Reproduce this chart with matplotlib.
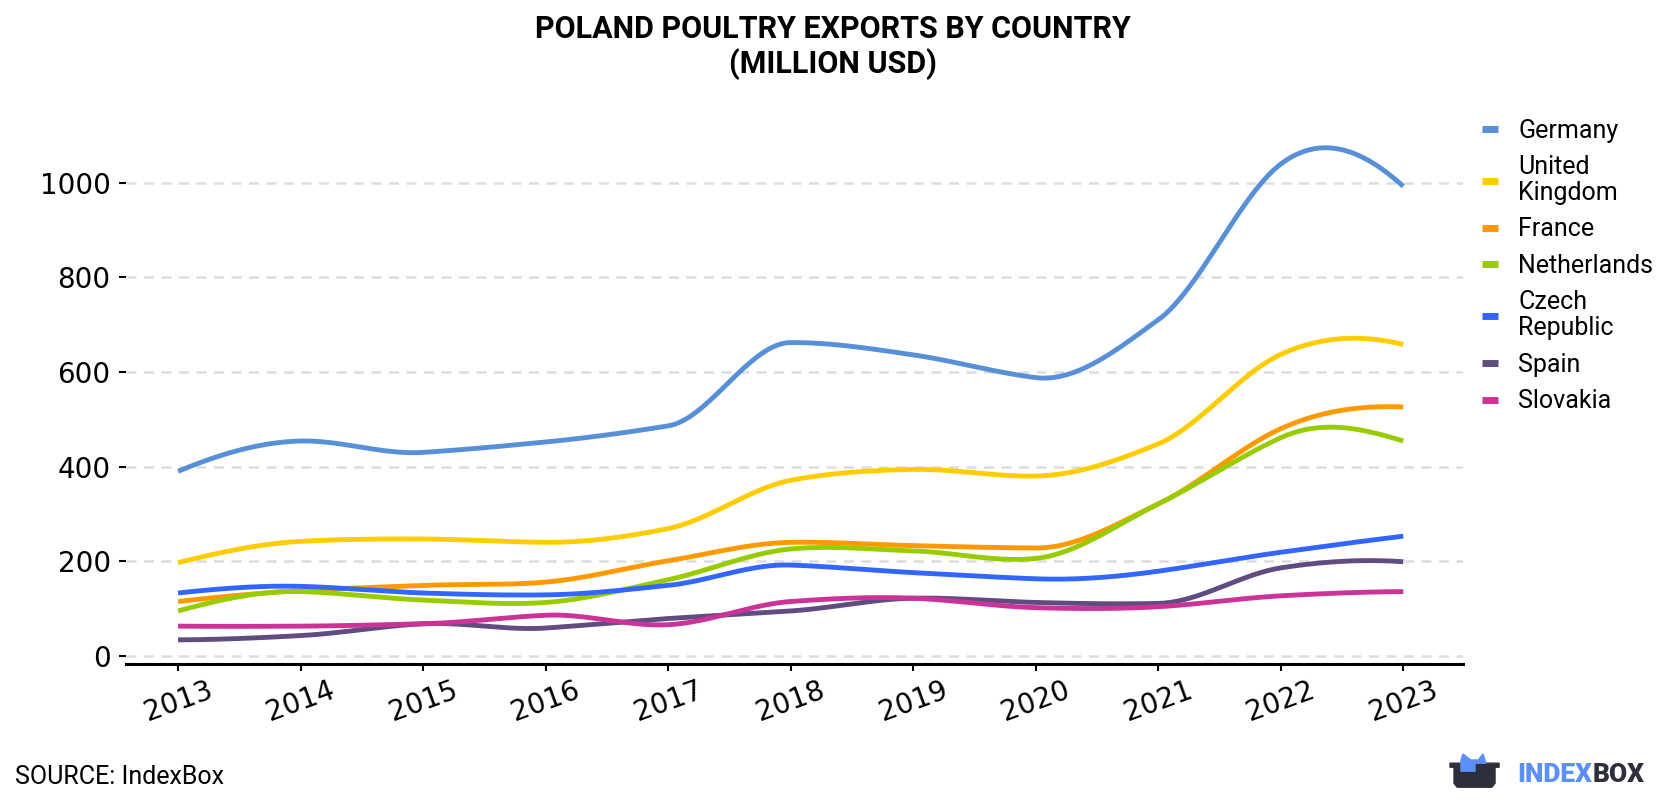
import numpy as np
import matplotlib
matplotlib.use("Agg")
import matplotlib.pyplot as plt
from matplotlib.patches import Polygon

years = [2013, 2014, 2015, 2016, 2017, 2018, 2019, 2020, 2021, 2022, 2023]

germany = [390, 454, 430, 452, 486, 662, 636, 588, 710, 1039, 992]
united_kingdom = [197, 242, 247, 240, 269, 371, 394, 380, 448, 637, 658]
france = [115, 138, 149, 156, 201, 240, 233, 228, 321, 480, 526]
netherlands = [95, 136, 118, 113, 161, 226, 222, 206, 321, 461, 454]
czech_republic = [133, 147, 133, 129, 149, 192, 176, 163, 179, 219, 253]
spain = [34, 43, 68, 59, 79, 95, 122, 113, 111, 186, 199]
slovakia = [63, 63, 68, 86, 66, 115, 122, 102, 104, 127, 136]

series = [
    ("Germany", germany, "#5790d8"),
    ("United\nKingdom", united_kingdom, "#ffcc00"),
    ("France", france, "#ff9900"),
    ("Netherlands", netherlands, "#99cc00"),
    ("Czech\nRepublic", czech_republic, "#3366ff"),
    ("Spain", spain, "#604c80"),
    ("Slovakia", slovakia, "#cc3399"),
]


def smooth(x, y, per_seg=40):
    # akima spline through the yearly points (drawing only)
    x = np.asarray(x, float)
    y = np.asarray(y, float)
    h = np.diff(x)
    m = np.diff(y) / h
    m = np.concatenate([[0, 0], m, [0, 0]])
    m[1] = 2 * m[2] - m[3]
    m[0] = 2 * m[1] - m[2]
    m[-2] = 2 * m[-3] - m[-4]
    m[-1] = 2 * m[-2] - m[-3]
    t = np.zeros(len(x))
    for i in range(len(x)):
        w1 = abs(m[i + 3] - m[i + 2])
        w2 = abs(m[i + 1] - m[i])
        if w1 + w2 == 0:
            t[i] = (m[i + 1] + m[i + 2]) / 2
        else:
            t[i] = (w1 * m[i + 1] + w2 * m[i + 2]) / (w1 + w2)
    xs_all, ys_all = [], []
    s = np.linspace(0, 1, per_seg)
    for i in range(len(x) - 1):
        h00 = 2 * s ** 3 - 3 * s ** 2 + 1
        h10 = s ** 3 - 2 * s ** 2 + s
        h01 = -2 * s ** 3 + 3 * s ** 2
        h11 = s ** 3 - s ** 2
        ys = h00 * y[i] + h10 * h[i] * t[i] + h01 * y[i + 1] + h11 * h[i] * t[i + 1]
        xs = x[i] + s * h[i]
        if i > 0:
            xs, ys = xs[1:], ys[1:]
        xs_all.append(xs)
        ys_all.append(ys)
    return np.concatenate(xs_all), np.concatenate(ys_all)


fig = plt.figure(figsize=(16.8, 8), dpi=100)
ax = fig.add_axes([0.075, 0.17, 0.796, 0.661])
ax.set_xlim(2012.575, 2023.49)
ax.set_ylim(-17, 1100)

for name, vals, color in series:
    xs, ys = smooth(years, vals)
    ax.plot(xs, ys, color=color, linewidth=3.5, label=name, solid_capstyle='butt')

ax.set_yticks([0, 200, 400, 600, 800, 1000])
ax.set_xticks(years)
ax.set_xticklabels([str(y) for y in years], rotation=20)
ax.tick_params(axis='both', labelsize=20, length=5, width=1.5, color='black')
ax.tick_params(axis='y', pad=6)
ax.tick_params(axis='x', pad=4)

for s in ['left', 'right', 'top']:
    ax.spines[s].set_visible(False)
ax.spines['bottom'].set_linewidth(2.2)
ax.yaxis.grid(True, linestyle=(0, (4, 3)), color='#dddddd', linewidth=1.8)
ax.set_axisbelow(True)

leg = ax.legend(loc='upper left', bbox_to_anchor=(0.997, 1.074), frameon=False,
                prop={'family': 'Roboto', 'size': 18}, handlelength=0.65,
                handletextpad=0.8, labelspacing=0.5)
for line in leg.get_lines():
    line.set_linewidth(5)
for t in leg.get_texts():
    t.set_linespacing(1.1)

fig.text(0.496, 0.982, "POLAND POULTRY EXPORTS BY COUNTRY\n(MILLION USD)",
         ha='center', va='top', fontsize=22, fontweight='bold',
         family='Roboto', linespacing=1.15)

fig.text(0.009, 0.02, "SOURCE: IndexBox", fontsize=18, family='Roboto',
         ha='left', va='baseline')

# logo
t_index = fig.text(0.903, 0.0225, "INDEX", fontsize=19, fontweight='heavy',
                   family='Roboto', color='#5b8ff9', ha='left', va='baseline')
fig.canvas.draw()
bb = t_index.get_window_extent().transformed(fig.transFigure.inverted())
fig.text(bb.x1 + 0.0005, 0.0225, "BOX", fontsize=19, fontweight='heavy',
         family='Roboto', color='#2d2f3a', ha='left', va='baseline')
box = Polygon([[0.8631, 0.046], [0.8923, 0.046], [0.8923, 0.041], [0.8899, 0.041],
               [0.8899, 0.021], [0.8880, 0.016], [0.8674, 0.016], [0.8655, 0.021],
               [0.8655, 0.041], [0.8631, 0.041]],
              closed=True, transform=fig.transFigure, color='#2d2f3a')
ears = Polygon([[0.8696, 0.036], [0.8696, 0.050], [0.8708, 0.0575], [0.8755, 0.050],
                [0.8800, 0.050], [0.8827, 0.0575], [0.8845, 0.046], [0.8780, 0.046],
                [0.8780, 0.036]],
               closed=True, transform=fig.transFigure, color='#5b8ff9')
fig.patches.extend([box, ears])

fig.savefig("out.png", dpi=100, facecolor='white')
